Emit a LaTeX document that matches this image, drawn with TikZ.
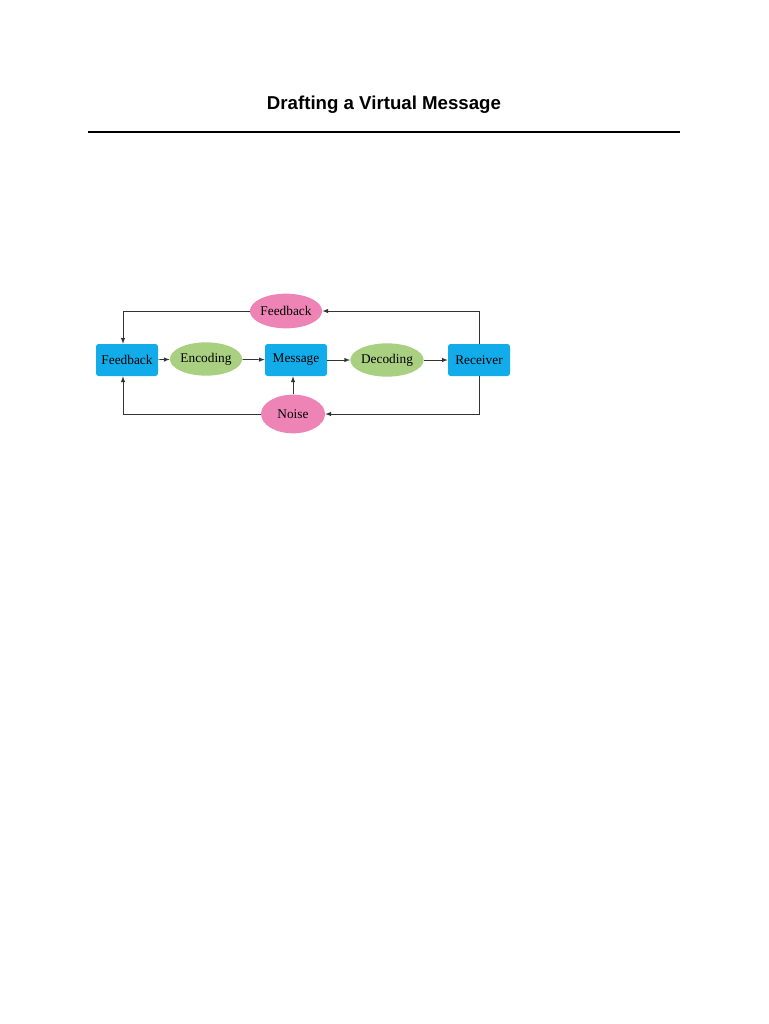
\documentclass[tikz,border=0pt]{standalone}
\usepackage{fontspec}
\setmainfont{Liberation Serif}
\newfontfamily\titlefont{Liberation Sans}
\usetikzlibrary{shapes, arrows, positioning}
\definecolor{boxblue}{HTML}{12ACEA}
\definecolor{leafgreen}{HTML}{A8D080}
\definecolor{rosepink}{HTML}{EE84B6}
\begin{document}
\begin{tikzpicture}[x=0.75pt, y=-0.75pt,
        block/.style={rectangle, rounded corners=2pt, fill=boxblue, minimum width=46.5pt, minimum height=24pt, inner sep=0pt, font=\fontsize{10}{12}\selectfont},
        codec/.style={ellipse, fill=leafgreen, minimum width=48pt, minimum height=25pt, inner sep=0pt, font=\fontsize{10}{12}\selectfont},
        disturb/.style={ellipse, fill=rosepink, inner sep=0pt, font=\fontsize{10}{12}\selectfont},
        line/.style={-latex, black!80, line width=0.5pt}
    ]
        \useasboundingbox (0,0) rectangle (768,1024);
        % Title
        \node[font=\titlefont\bfseries\fontsize{14}{17}\selectfont] (title) at (384,105) {Drafting a Virtual Message};
        \draw[line width=0.8pt] (88,132) -- (680,132);

        % Main chain
        \node[block] (fb) at (127,360) {Feedback};
        \node[codec] (enc) at (206,359) {Encoding};
        \node[block] (msg) at (296,360) {Message};
        \node[codec, minimum width=46pt] (dec) at (387,360) {Decoding};
        \node[block] (rcv) at (479,360) {Receiver};
        \node[disturb, minimum width=52pt, minimum height=26pt] (fbo) at (286,311) {Feedback};
        \node[disturb, minimum width=48pt, minimum height=29pt] (noise) at (293,414) {Noise};

        \draw[line] (fb) -- (enc);
        \draw[line] (enc) -- (msg);
        \draw[line] (msg) -- (dec);
        \draw[line] (dec) -- (rcv);

        % Loops
        \draw[line] (rcv.north) |- (fbo.east);
        \draw[line] (fbo.west) -| ([xshift=-3pt]fb.north);
        \draw[line] (rcv.south) |- (noise.east);
        \draw[line] (noise.west) -| ([xshift=-3pt]fb.south);
        \draw[line] (noise.north) -- (noise.north |- msg.south);
    \end{tikzpicture}
\end{document}
